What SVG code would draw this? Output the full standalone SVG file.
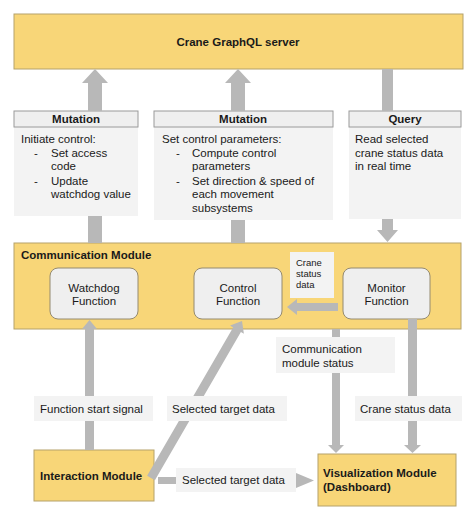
<svg xmlns="http://www.w3.org/2000/svg" width="474" height="523" viewBox="0 0 474 523">
<style>
text{font-family:"Liberation Sans",Arial,sans-serif;font-size:11.5px;fill:#1a1a1a}
.b{font-weight:bold}
.c{text-anchor:middle}
.sm{font-size:9.5px}
.yel{fill:#f8d678;stroke:#b5a26a;stroke-width:1}
.hdr{fill:#efefef;stroke:#9a9a9a;stroke-width:1}
.body{fill:#f3f3f3}
.fn{fill:#efefef;stroke:#948a70;stroke-width:1}
.lbl{fill:#f3f3f3}
.arr{fill:#b8b8b8}
</style>
<rect width="474" height="523" fill="#ffffff"/>
<g id="server"><rect class="yel" x="14" y="14" width="449" height="55"/><text class="b c" x="238" y="46">Crane GraphQL server</text></g>
<g id="mutation1"><rect class="body" x="14" y="127" width="124" height="89"/><rect class="hdr" x="14" y="111" width="124" height="16"/><text class="b c" x="76" y="123">Mutation</text>
<text x="21" y="143">Initiate control:</text><text x="34" y="157">-</text><text x="51" y="157">Set access</text><text x="51" y="170">code</text><text x="34" y="185">-</text><text x="51" y="185">Update</text><text x="51" y="198">watchdog value</text></g>
<g id="mutation2"><rect class="body" x="154" y="127" width="179" height="93"/><rect class="hdr" x="154" y="111" width="179" height="16"/><text class="b c" x="243" y="123">Mutation</text>
<text x="162" y="143">Set control parameters:</text><text x="176" y="157">-</text><text x="192" y="157">Compute control</text><text x="192" y="170">parameters</text><text x="176" y="185">-</text><text x="192" y="185">Set direction &amp; speed of</text><text x="192" y="198">each movement</text><text x="192" y="212">subsystems</text></g>
<g id="query"><rect class="body" x="349" y="127" width="112" height="92"/><rect class="hdr" x="349" y="111" width="112" height="16"/><text class="b c" x="405" y="123">Query</text>
<text x="355" y="143">Read selected</text><text x="355" y="157">crane status data</text><text x="355" y="170">in real time</text></g>
<g id="comm"><rect class="yel" x="14" y="243" width="447" height="86"/><text class="b" x="21" y="259">Communication Module</text></g>
<g id="watchdog"><rect class="fn" x="50" y="268" width="88" height="51" rx="8"/><text class="c" x="94" y="292">Watchdog</text><text class="c" x="94" y="305">Function</text></g>
<g id="control"><rect class="fn" x="194" y="268" width="88" height="51" rx="8"/><text class="c" x="238" y="292">Control</text><text class="c" x="238" y="305">Function</text></g>
<g id="monitor"><rect class="fn" x="343" y="268" width="87" height="51" rx="8"/><text class="c" x="386.5" y="292">Monitor</text><text class="c" x="386.5" y="305">Function</text></g>
<g id="interaction"><rect class="yel" x="34" y="450" width="120" height="51"/><text class="b" x="40" y="480">Interaction Module</text></g>
<g id="visualization"><rect class="yel" x="318" y="454" width="138" height="52"/><text class="b" x="323" y="477">Visualization Module</text><text class="b" x="323" y="491">(Dashboard)</text></g>
<g id="connectors">
<polygon class="arr" points="88,111 88,83 82,83 95,69 108,83 102,83 102,111"/>
<polygon class="arr" points="231,111 231,83 225,83 238,69 251,83 245,83 245,111"/>
<rect class="arr" x="382" y="69" width="11" height="42"/>
<rect class="arr" x="88" y="216" width="14" height="27"/>
<rect class="arr" x="231" y="220" width="14" height="23"/>
<polygon class="arr" points="382,219 382,230 377,230 387.5,242 398,230 393,230 393,219"/>
<polygon class="arr" points="338,303 297,303 297,299 287,307 297,315 297,311 338,311"/>
<polygon class="arr" points="332,329 332,445 328,445 336,453 344,445 340,445 340,329"/>
<polygon class="arr" points="408,319 408,445 404,445 412.5,453 421,445 417,445 417,319"/>
<polygon class="arr" points="85,450 85,329 82,329 89.5,320 97,329 94,329 94,450"/>
<polygon class="arr" points="147.1,475.7 233.1,327.4 230.1,325.6 242,321 243.9,333.7 240.9,331.9 154.9,480.3"/>
<polygon class="arr" points="158,477 296,477 296,473 314,480.5 296,488 296,484 158,484"/>
</g>
<g id="labels">
<rect class="lbl" x="290" y="252" width="44" height="46" fill="#f6f6f6"/>
<text class="sm" x="296" y="266">Crane</text><text class="sm" x="296" y="277">status</text><text class="sm" x="296" y="288">data</text>
<rect class="lbl" x="276" y="337" width="119" height="36"/><text x="282" y="353">Communication</text><text x="282" y="367">module status</text>
<rect class="lbl" x="34" y="396" width="119" height="25"/><text x="40" y="413">Function start signal</text>
<rect class="lbl" x="167" y="396" width="120" height="25"/><text x="172" y="413">Selected target data</text>
<rect class="lbl" x="355" y="396" width="107" height="25"/><text x="360" y="413">Crane status data</text>
<rect class="lbl" x="176" y="468" width="120" height="24"/><text x="182" y="484">Selected target data</text>
</g>
</svg>
